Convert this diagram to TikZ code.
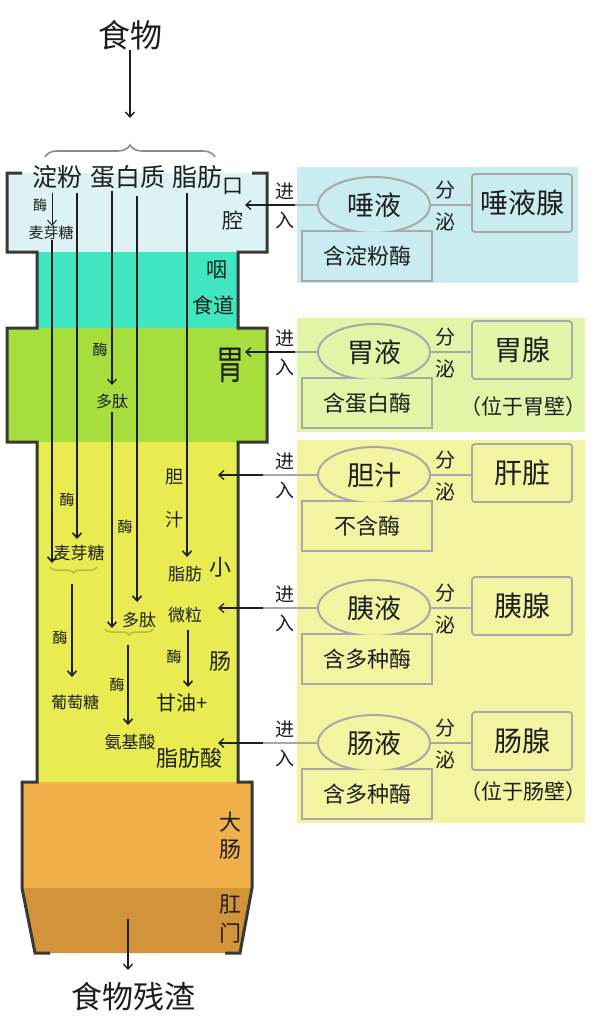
\documentclass[tikz,border=0pt]{standalone}
\usepackage{fontspec}
\setmainfont{Noto Sans CJK SC}
\usetikzlibrary{arrows.meta,shapes.geometric,decorations.pathreplacing}
\definecolor{ink}{HTML}{1E1E1E}
\definecolor{outl}{HTML}{383838}
\definecolor{mouthc}{HTML}{DDF2F4}
\definecolor{throatc}{HTML}{40E6C0}
\definecolor{stomc}{HTML}{A6DE3E}
\definecolor{sic}{HTML}{E8EC50}
\definecolor{lic}{HTML}{F0B04A}
\definecolor{anusc}{HTML}{D39439}
\definecolor{pone}{HTML}{C8ECF0}
\definecolor{ptwo}{HTML}{E2F4A8}
\definecolor{pthree}{HTML}{F2F4A2}
\definecolor{shapeg}{HTML}{A8A8A8}
\definecolor{braceg}{HTML}{8A8A8A}
\definecolor{bracey}{HTML}{B4BC3C}
\begin{document}
\begin{tikzpicture}[x=1pt,y=-1pt,
  fs/.style={font=\fontsize{#1}{#1}\selectfont, inner sep=0pt, text=ink},
  flow/.style={draw=ink, line width=1.6pt, -{Straight Barb[length=5pt,width=9pt]}},
  gline/.style={draw=shapeg, line width=2pt},
  body/.style={draw=outl, line width=3pt, line join=miter},
  enzbox/.style={draw=shapeg, line width=1.8pt, minimum width=130pt, minimum height=50pt, inner sep=0pt, font=\fontsize{22}{22}\selectfont, text=ink},
  glandbox/.style={draw=shapeg, line width=1.8pt, rounded corners=3pt, minimum width=100pt, minimum height=58pt, inner sep=0pt, font=\fontsize{28}{28}\selectfont, text=ink},
  juice/.style={ellipse, minimum width=112pt, minimum height=56pt, inner sep=0pt, font=\fontsize{27}{27}\selectfont, text=ink},
]
\useasboundingbox[fill=white] (0,0) rectangle (600,1029);

% ---------- body fills ----------
\fill[mouthc] (7,173) rectangle (267,252);
\fill[throatc] (37,252) rectangle (238,328);
\fill[stomc] (7,328) rectangle (267,442);
\fill[sic] (37,442) rectangle (238,782);
\fill[lic] (22,782) rectangle (252,888);
\fill[anusc] (22,888) -- (252,888) -- (240,953) -- (35,953) -- cycle;

% ---------- body outline ----------
\draw[body] (22,173) -- (7,173) -- (7,252) -- (37,252) -- (37,328) -- (7,328) -- (7,442) -- (37,442) -- (37,782) -- (22,782) -- (22,888) -- (35,953) -- (50,953);
\draw[body] (252,173) -- (267,173) -- (267,252) -- (238,252) -- (238,328) -- (267,328) -- (267,442) -- (238,442) -- (238,782) -- (252,782) -- (252,888) -- (240,953) -- (225,953);

% ---------- right panels ----------
\fill[pone] (297,167) rectangle (578,283);
\fill[ptwo] (297,318) rectangle (585,432);
\fill[pthree] (297,440) rectangle (585,823);

\foreach \i/\c/\pc/\jt/\et/\gt/\ax/\sx in {1/205/pone/唾液/含淀粉酶/唾液腺/245/295, 2/352/ptwo/胃液/含蛋白酶/胃腺/245/295, 3/475/pthree/胆汁/不含酶/肝脏/218/263, 4/608/pthree/胰液/含多种酶/胰腺/218/263, 5/743/pthree/肠液/含多种酶/肠腺/218/263}{
  \node[enzbox, fill=\pc] (enz\i) at (367,\c+51) {\et};
  \node[juice, fill=\pc] (jc\i) at (374,\c) {\jt};
  \begin{scope}
    \clip (310,\c-40) rectangle (440,\c+26);
    \draw[gline] (374,\c) ellipse [x radius=56, y radius=28];
  \end{scope}
  \node[glandbox, fill=\pc] (gl\i) at (522,\c-2) {\gt};
  \node[fs=20] (fen\i) at (445,\c-15) {分};
  \node[fs=20] (mi\i) at (445,\c+17) {泌};
  \node[fs=19] (jin\i) at (285,\c-14) {进};
  \node[fs=19] (ru\i) at (285,\c+15) {入};
  \coordinate (split\i) at (\sx,\c);
  \coordinate (tip\i) at (\ax,\c);
  \draw[gline] (jc\i.east) -- (jc\i.east -| gl\i.west);
  \draw[gline] (jc\i.west) -- (split\i);
  \draw[flow, line width=1.3pt] (split\i) -- (tip\i);
}
\node[fs=21] (wall1) at (523,407) {（位于胃壁）};
\node[fs=21] (wall2) at (523,792) {（位于肠壁）};

% ---------- top ----------
\node[fs=32] (food) at (130,35) {食物};
\coordinate (foodin) at (130,118);
\draw[flow, line width=1.4pt] (food.south) -- (foodin);
\draw[braceg, line width=1.6pt, decorate, decoration={brace, amplitude=12pt}] (45,157) -- (215,157);

\node[fs=25] (starch) at (57,177) {淀粉};
\node[fs=25] (protein) at (128,177) {蛋白质};
\node[fs=25] (fat) at (197,177) {脂肪};
\node[fs=21] (kou) at (233,186) {口};
\node[fs=21] (qiang) at (233,220) {腔};
\node[fs=21] (yan) at (217,270) {咽};
\node[fs=21] (esoph) at (213,305) {食道};
\node[fs=40] (wei) at (230,365) {\scalebox{0.7}[1]{胃}};

% mouth
\node[fs=14] (e1) at (40,205) {酶};
\node[fs=15] (malt1) at (51,233) {麦芽糖};
\coordinate (sA) at (52,193);
\draw[flow, line width=1pt] (sA) -- (sA |- malt1.north);
\coordinate (tA) at (52,563);
\draw[flow] (sA |- malt1.south) -- (tA);

\coordinate (sB) at (77,193);
\coordinate (tB) at (77,539);
\draw[flow] (sB) -- (tB);

% stomach
\node[fs=15] (e2) at (100,350) {酶};
\node[fs=16] (pep1) at (112,401) {多肽};
\coordinate (sC) at (112,191);
\coordinate (tC) at (112,385);
\draw[flow, line width=1.3pt] (sC) -- (tC);
\coordinate (tC2) at (112,628);
\draw[flow] (sC |- pep1.south) ++(0,3) -- (tC2);

\coordinate (sD) at (137,196);
\coordinate (tD) at (137,602);
\draw[flow] (sD) -- (tD);

\coordinate (sE) at (187,193);
\coordinate (tE) at (187,557);
\draw[flow] (sE) -- (tE);

% small intestine
\node[fs=15] (e3) at (67,500) {酶};
\node[fs=15] (e4) at (125,527) {酶};
\node[fs=18] (dan) at (174,477) {胆};
\node[fs=18] (zhi) at (174,520) {汁};
\node[fs=17] (malt2) at (79,553) {麦芽糖};
\node[fs=17] (fat2) at (185,574) {脂肪};
\node[fs=17] (mic) at (185,615) {微粒};
\node[fs=17] (pep2) at (139,620) {多肽};
\node[fs=22] (xiao) at (220,567) {小};
\node[fs=22] (chang) at (220,662) {肠};

\draw[bracey, line width=1.5pt, decorate, decoration={brace, amplitude=6pt}] (97,567) -- (50,567);
\coordinate (bm) at (72,584);
\coordinate (tG) at (72,677);
\draw[flow] (bm) -- (tG);
\node[fs=15] (e5) at (60,638) {酶};

\draw[bracey, line width=1.5pt, decorate, decoration={brace, amplitude=6pt}] (153,629) -- (105,629);
\coordinate (bp) at (128,645);
\coordinate (tH) at (128,725);
\draw[flow] (bp) -- (tH);
\node[fs=15] (e6) at (117,685) {酶};

\coordinate (sF) at (188,630);
\coordinate (tF) at (188,687);
\draw[flow] (sF) -- (tF);
\node[fs=15] (e7) at (174,657) {酶};

\node[fs=16] (glu) at (75,702) {葡萄糖};
\node[fs=20] (gly) at (182,703) {甘油+};
\node[fs=17] (amino) at (130,742) {氨基酸};
\node[fs=22] (fa) at (189,758) {脂肪酸};

% large intestine / anus
\node[fs=22] (da) at (230,822) {大};
\node[fs=22] (chang2) at (230,850) {肠};
\node[fs=22] (gang) at (230,905) {肛};
\node[fs=22] (men) at (230,933) {门};

\coordinate (outtop) at (128,919);
\coordinate (outend) at (128,970);
\draw[flow, line width=1.3pt] (outtop) -- (outend);
\node[fs=31] (waste) at (133,997) {食物残渣};
\end{tikzpicture}
\end{document}
